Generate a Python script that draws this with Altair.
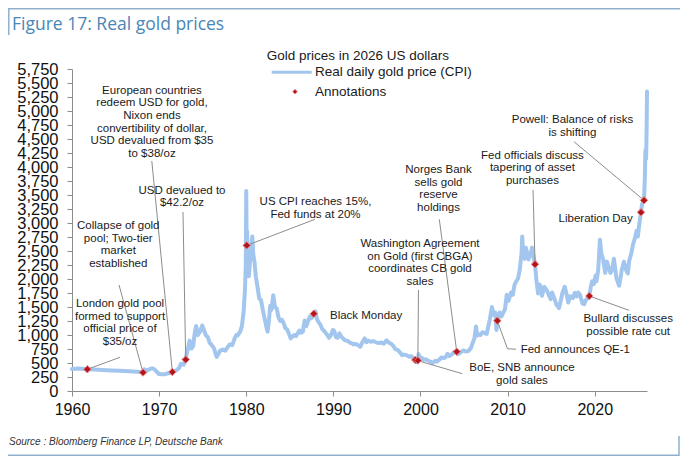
import altair as alt
import pandas as pd

# ---------------- data ----------------
years = [1960.0, 1960.8, 1961.5, 1961.76, 1962.5, 1963.5, 1964.5, 1965.5, 1966.5, 1967.5,
         1968.0, 1968.15, 1968.3, 1968.6, 1968.9, 1969.2, 1969.4, 1969.7, 1969.95, 1970.3,
         1970.6, 1970.9, 1971.2, 1971.52, 1971.8, 1972.0, 1972.3, 1972.5, 1972.8, 1973.05,
         1973.2, 1973.35, 1973.5, 1973.7, 1973.9, 1974.1, 1974.25, 1974.45, 1974.7, 1974.95,
         1975.1, 1975.35, 1975.6, 1975.8, 1976.0, 1976.3, 1976.6, 1976.8, 1977.0, 1977.3,
         1977.6, 1977.9, 1978.1, 1978.4, 1978.7, 1978.85, 1979.0, 1979.3, 1979.5, 1979.7,
         1979.85, 1979.95, 1980.0, 1980.05, 1980.1, 1980.2, 1980.3, 1980.4, 1980.55, 1980.7,
         1980.8, 1980.95, 1981.1, 1981.3, 1981.5, 1981.7, 1981.9, 1982.1, 1982.3, 1982.45,
         1982.6, 1982.75, 1982.9, 1983.1, 1983.3, 1983.5, 1983.7, 1983.9, 1984.1, 1984.3,
         1984.5, 1984.7, 1984.9, 1985.1, 1985.3, 1985.5, 1985.7, 1985.9, 1986.1, 1986.3,
         1986.5, 1986.7, 1986.9, 1987.1, 1987.3, 1987.5, 1987.75, 1987.95, 1988.1, 1988.3,
         1988.5, 1988.7, 1988.9, 1989.1, 1989.3, 1989.5, 1989.7, 1989.95, 1990.1, 1990.3,
         1990.5, 1990.7, 1990.9, 1991.1, 1991.3, 1991.5, 1991.7, 1991.9, 1992.1, 1992.3,
         1992.5, 1992.7, 1992.9, 1993.1, 1993.3, 1993.6, 1993.8, 1994.0, 1994.3, 1994.6,
         1994.9, 1995.2, 1995.5, 1995.8, 1996.1, 1996.4, 1996.7, 1996.9, 1997.1, 1997.4,
         1997.7, 1997.9, 1998.1, 1998.4, 1998.7, 1998.9, 1999.1, 1999.4, 1999.55, 1999.7,
         1999.78, 1999.9, 2000.1, 2000.3, 2000.6, 2000.9, 2001.2, 2001.4, 2001.7, 2001.9,
         2002.2, 2002.4, 2002.7, 2002.9, 2003.1, 2003.3, 2003.6, 2003.9, 2004.16, 2004.35,
         2004.6, 2004.9, 2005.2, 2005.5, 2005.8, 2005.95, 2006.2, 2006.37, 2006.5, 2006.7,
         2006.9, 2007.1, 2007.4, 2007.6, 2007.8, 2007.95, 2008.2, 2008.4, 2008.6, 2008.72,
         2008.82, 2009.1, 2009.3, 2009.5, 2009.7, 2009.9, 2010.1, 2010.4, 2010.6, 2010.8,
         2011.0, 2011.2, 2011.4, 2011.6, 2011.68, 2011.8, 2011.95, 2012.1, 2012.4, 2012.6,
         2012.8, 2012.95, 2013.15, 2013.3, 2013.5, 2013.7, 2013.95, 2014.2, 2014.5, 2014.8,
         2014.95, 2015.1, 2015.4, 2015.6, 2015.9, 2016.1, 2016.3, 2016.55, 2016.8, 2016.95,
         2017.2, 2017.5, 2017.7, 2017.95, 2018.1, 2018.3, 2018.6, 2018.8, 2018.95, 2019.2,
         2019.38, 2019.55, 2019.7, 2019.9, 2020.1, 2020.2, 2020.4, 2020.6, 2020.75, 2020.95,
         2021.2, 2021.4, 2021.6, 2021.8, 2022.0, 2022.2, 2022.5, 2022.8, 2022.95, 2023.1,
         2023.35, 2023.6, 2023.8, 2023.95, 2024.2, 2024.4, 2024.6, 2024.8, 2024.95, 2025.1,
         2025.31, 2025.45, 2025.66, 2025.75, 2025.82, 2025.9, 2025.96, 2026.0]
prices = [392, 400, 392, 388, 382, 375, 368, 362, 352, 342,
          335, 330, 385, 365, 390, 405, 395, 350, 305, 300,
          298, 312, 320, 340, 355, 370, 410, 485, 470, 561,
          690, 780, 900, 760, 800, 1050, 1160, 1000, 1060, 1170,
          1110, 1000, 960, 860, 830, 760, 610, 660, 720, 740,
          720, 790, 830, 820, 950, 1000, 990, 1060, 1160, 1420,
          1800, 2250, 3570, 2600, 2850, 2150, 2050, 2250, 2550, 2760,
          2450, 2300, 2050, 1850, 1650, 1620, 1450, 1300, 1150, 1060,
          1250, 1520, 1450, 1710, 1500, 1470, 1320, 1250, 1270, 1210,
          1120, 1100, 1020, 940, 970, 1000, 980, 1030, 1080, 1040,
          1060, 1260, 1160, 1250, 1330, 1300, 1380, 1420, 1290, 1230,
          1190, 1110, 1080, 1040, 1000, 950, 990, 1090, 1070, 960,
          950, 1030, 970, 940, 910, 900, 890, 860, 855, 830,
          845, 830, 810, 790, 860, 940, 870, 900, 880, 890,
          870, 855, 865, 845, 905, 860, 835, 800, 750, 730,
          680, 640, 650, 640, 610, 625, 600, 555, 515, 545,
          660, 595, 600, 560, 565, 540, 520, 500, 540, 525,
          565, 600, 590, 605, 665, 625, 655, 700, 702, 660,
          690, 725, 705, 715, 770, 840, 950, 1150, 990, 1010,
          1000, 1050, 1030, 1020, 1170, 1270, 1500, 1360, 1400, 1090,
          1255, 1400, 1330, 1400, 1460, 1720, 1610, 1760, 1720, 1900,
          1960, 2010, 2170, 2460, 2760, 2380, 2360, 2560, 2350, 2420,
          2560, 2430, 2263, 1990, 1740, 1900, 1700, 1860, 1800, 1690,
          1640, 1760, 1640, 1540, 1480, 1610, 1760, 1860, 1710, 1580,
          1690, 1660, 1750, 1690, 1760, 1720, 1560, 1550, 1620, 1660,
          1696, 1860, 1960, 1910, 2060, 1960, 2160, 2700, 2460, 2360,
          2110, 2310, 2210, 2110, 2160, 2360, 2010, 1880, 2010, 2160,
          2310, 2160, 2100, 2320, 2460, 2620, 2720, 2860, 2760, 2960,
          3191, 3350, 3405, 3800, 4300, 4150, 4700, 5350]

marker_years = [1961.76, 1968.15, 1971.52, 1973.05, 1980.05, 1987.75, 1999.4, 1999.7,
                2004.16, 2008.82, 2013.15, 2019.38, 2025.31, 2025.66]
marker_prices = [388, 330, 340, 561, 2600, 1380, 555, 545,
                 702, 1255, 2263, 1696, 3191, 3405]

label_texts = [
    ["London gold pool", "formed to support", "official price of", "$35/oz"],
    ["Collapse of gold", "pool; Two-tier", "market", "established"],
    ["European countries", "redeem USD for gold,", "Nixon ends", "convertibility of dollar,",
     "USD devalued from $35", "to $38/oz"],
    ["USD devalued to", "$42.2/oz"],
    ["US CPI reaches 15%,", "Fed funds at 20%"],
    ["Washington Agreement", "on Gold (first CBGA)", "coordinates CB gold", "sales"],
    ["BoE, SNB announce", "gold sales"],
    ["Norges Bank", "sells gold", "reserve", "holdings"],
    ["Fed officials discuss", "tapering of asset", "purchases"],
    ["Bullard discusses", "possible rate cut"],
    ["Liberation Day"],
    ["Powell: Balance of risks", "is shifting"],
]
# position of the first line of each label
label_years = [1965.51, 1965.31, 1969.18, 1972.63, 1987.95, 1999.94, 2011.65, 2002.07,
               2012.85, 2023.84, 2020.11, 2017.44]
label_prices = [1554, 2946, 5363, 3577, 3370, 2625, 411, 3946, 4202, 1280, 3071, 4839]

left_texts = ["Black Monday", "Fed announces QE-1"]
left_years = [1989.61, 2011.5]
left_prices = [1345, 727]

leader_x1 = [1965.51, 1965.40, 1969.16, 1972.74, 1987.89, 1999.77, 1999.40, 2002.16,
             2008.82, 2009.98, 2012.92, 2019.38, 2017.62]
leader_y1 = [602, 1893, 4107, 3196, 3066, 1804, 555, 3066, 1255, 755, 3589, 1696, 4452]
leader_x2 = [1961.76, 1968.15, 1971.52, 1973.05, 1980.05, 1999.70, 2004.80, 2004.16,
             2009.98, 2010.96, 2013.15, 2023.93, 2025.66]
leader_y2 = [388, 330, 340, 561, 2600, 545, 309, 702, 755, 745, 2263, 1441, 3405]

y_ticks = list(range(0, 5751, 250))
x_ticks = [1960, 1970, 1980, 1990, 2000, 2010, 2020]

# ---------------- styles ----------------
LINE_COLOR = "#a3c6ee"
MARK_FILL = "#b3151c"
MARK_STROKE = "#e88080"
FONT = "Liberation Sans"
TXT = "#1a1a1a"
FRAME = "#8fb0cc"

xs = alt.Scale(domain=[1960, 2026], nice=False, zero=False)
ys = alt.Scale(domain=[0, 5750], nice=False, zero=False)
x_axis = alt.Axis(values=x_ticks, format="d", title=None, grid=False, labelFontSize=16,
                  labelFont=FONT, labelColor="#111", tickSize=5, labelPadding=5,
                  domainColor="#8c8c8c", tickColor="#8c8c8c", labelFlush=False)
y_axis = alt.Axis(values=y_ticks, format=",.0f", title=None, grid=False, labelFontSize=16.5,
                  labelFont=FONT, labelColor="#111", tickSize=5, labelPadding=9,
                  labelOverlap=False, domainColor="#8c8c8c", tickColor="#8c8c8c")


def X(f):
    return alt.X(f, type="quantitative", scale=xs, axis=x_axis)


def Y(f):
    return alt.Y(f, type="quantitative", scale=ys, axis=y_axis)


line_df = pd.DataFrame({"year": years, "price": prices})
mark_df = pd.DataFrame({"year": marker_years, "price": marker_prices})
lab_df = pd.DataFrame({"year": label_years, "price": label_prices, "txt": label_texts})
left_df = pd.DataFrame({"year": left_years, "price": left_prices, "txt": left_texts})
lead_df = pd.DataFrame({"a": leader_x1, "b": leader_y1, "c": leader_x2, "d": leader_y2})

line = alt.Chart(line_df).mark_line(color=LINE_COLOR, strokeWidth=4, strokeJoin="round",
                                    strokeCap="round").encode(x=X("year"), y=Y("price"))

leaders = alt.Chart(lead_df).mark_rule(color="#8c8c8c", strokeWidth=1).encode(
    x=X("a"), y=Y("b"), x2="c:Q", y2="d:Q")

markers = alt.Chart(mark_df).mark_point(shape="diamond", filled=True, size=55, fill=MARK_FILL,
                                        stroke=MARK_STROKE, strokeWidth=1, opacity=1).encode(
    x=X("year"), y=Y("price"))

labels = alt.Chart(lab_df).mark_text(align="center", baseline="middle", fontSize=11.5,
                                     lineHeight=12.7, font=FONT, color=TXT).encode(
    x=X("year"), y=Y("price"), text="txt")

left_labels = alt.Chart(left_df).mark_text(align="left", baseline="middle", fontSize=11.5,
                                           font=FONT, color=TXT).encode(
    x=X("year"), y=Y("price"), text="txt:N")

one = pd.DataFrame({"k": [0]})

title = alt.Chart(one).mark_text(align="left", baseline="alphabetic", fontSize=17.5,
                                 font="Open Sans", color="#4a86b6").encode(
    x=alt.value(-60), y=alt.value(-39), text=alt.value("Figure 17: Real gold prices"))

source = alt.Chart(one).mark_text(align="left", baseline="middle", fontSize=10, font=FONT,
                                  fontStyle="italic", color="#333333").encode(
    x=alt.value(-63), y=alt.value(373),
    text=alt.value("Source : Bloomberg Finance LP, Deutsche Bank"))

leg_title = alt.Chart(one).mark_text(align="left", baseline="middle", fontSize=13.5, font=FONT,
                                     color=TXT).encode(
    x=alt.value(194.7), y=alt.value(-13.3), text=alt.value("Gold prices in 2026 US dollars"))
leg_l1 = alt.Chart(one).mark_text(align="left", baseline="middle", fontSize=13.5, font=FONT,
                                  color=TXT).encode(
    x=alt.value(243), y=alt.value(3.3), text=alt.value("Real daily gold price (CPI)"))
leg_l2 = alt.Chart(one).mark_text(align="left", baseline="middle", fontSize=13.5, font=FONT,
                                  color=TXT).encode(
    x=alt.value(243), y=alt.value(22.7), text=alt.value("Annotations"))
leg_line = alt.Chart(one).mark_rule(color=LINE_COLOR, strokeWidth=3).encode(
    x=alt.value(199.7), x2=alt.value(239.7), y=alt.value(3.3))
leg_pt = alt.Chart(one).mark_point(shape="diamond", filled=True, size=22, fill=MARK_FILL,
                                   stroke=MARK_STROKE, strokeWidth=0.8, opacity=1).encode(
    x=alt.value(223), y=alt.value(22.7))

frame_top = alt.Chart(one).mark_rule(color=FRAME, strokeWidth=1.5).encode(
    x=alt.value(-64), x2=alt.value(608), y=alt.value(-60.3))
frame_left = alt.Chart(one).mark_rule(color=FRAME, strokeWidth=1.5).encode(
    x=alt.value(-63.2), y=alt.value(-61), y2=alt.value(-34))
frame_bottom = alt.Chart(one).mark_rule(color=FRAME, strokeWidth=1.5).encode(
    x=alt.value(-64), x2=alt.value(607), y=alt.value(386.3))
frame_right = alt.Chart(one).mark_rule(color=FRAME, strokeWidth=1.5).encode(
    x=alt.value(607), y=alt.value(367), y2=alt.value(387))

chart = alt.layer(
    line, leaders, markers, labels, left_labels,
    title, source, leg_title, leg_l1, leg_l2, leg_line, leg_pt,
    frame_top, frame_left, frame_bottom, frame_right,
).properties(
    width=575, height=322,
    padding={"left": 64, "top": 61, "right": 33, "bottom": 65},
    autosize=alt.AutoSizeParams(type="none"),
    background="white",
).configure_view(stroke=None)

chart.save("out.html", embed_options={"renderer": "svg", "actions": False})
